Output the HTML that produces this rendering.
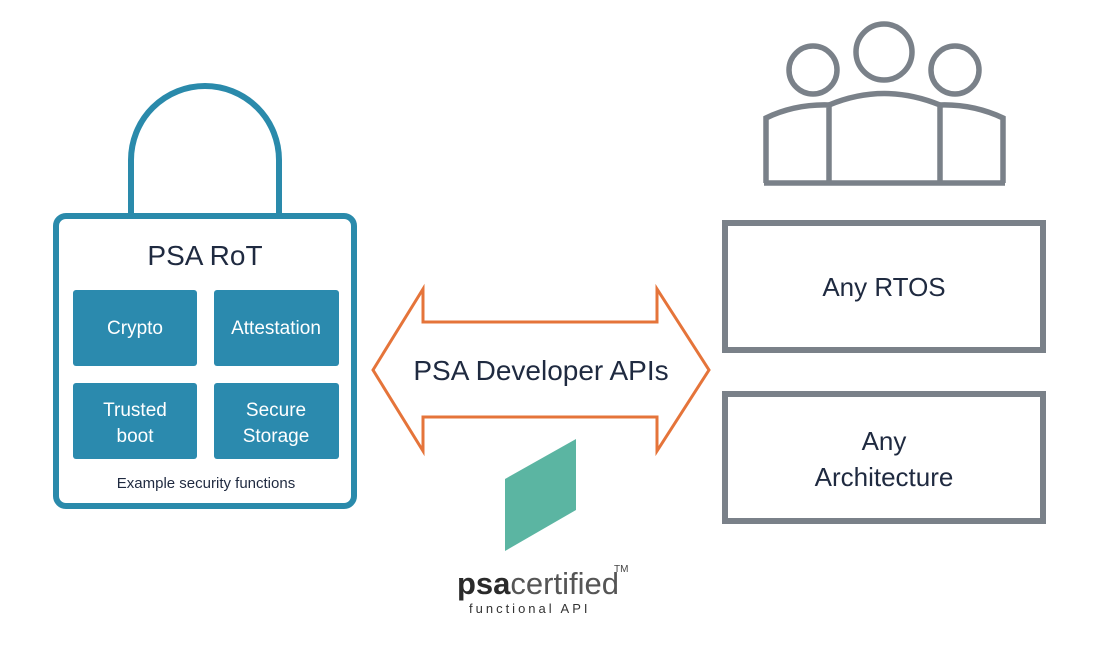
<!DOCTYPE html>
<html><head><meta charset="utf-8"><style>
html,body{margin:0;padding:0;background:#fff;width:1113px;height:669px;overflow:hidden}
text{font-family:"Liberation Sans",sans-serif}
</style></head><body>
<svg width="1113" height="669" viewBox="0 0 1113 669" xmlns="http://www.w3.org/2000/svg">
<!-- lock -->
<path d="M131 215 V160 A74 74 0 0 1 279 160 V215" fill="none" stroke="#2a8aab" stroke-width="6"/>
<rect x="56" y="216" width="298" height="290" rx="10" fill="#fff" stroke="#2a8aab" stroke-width="6"/>
<text x="205" y="265" text-anchor="middle" font-size="28" fill="#1f2a40">PSA RoT</text>
<g fill="#2b8aae">
<rect x="73" y="290" width="124" height="76" rx="3"/>
<rect x="214" y="290" width="125" height="76" rx="3"/>
<rect x="73" y="383" width="124" height="76" rx="3"/>
<rect x="214" y="383" width="125" height="76" rx="3"/>
</g>
<g fill="#fff" font-size="19" text-anchor="middle">
<text x="135" y="334">Crypto</text>
<text x="276" y="334">Attestation</text>
<text x="135" y="416">Trusted</text>
<text x="135" y="442">boot</text>
<text x="276" y="416">Secure</text>
<text x="276" y="442">Storage</text>
</g>
<text x="206" y="488" text-anchor="middle" font-size="15" fill="#1f2a40">Example security functions</text>
<!-- arrow -->
<path d="M373 370 L423 289 V322 H657 V289 L709 370 L657 451 V417 H423 V451 Z" fill="#fff" stroke="#e5743a" stroke-width="3" stroke-linejoin="miter"/>
<text x="541" y="380" text-anchor="middle" font-size="28" fill="#1f2a40">PSA Developer APIs</text>
<!-- logo -->
<polygon points="505,479 576,439 576,510 505,551" fill="#5bb5a2"/>
<text x="457" y="594" font-size="31" fill="#333"><tspan font-weight="bold" fill="#2a2a2a">psa</tspan><tspan fill="#555">certified</tspan></text>
<text x="614" y="572" font-size="10" fill="#444">TM</text>
<text x="469" y="613" font-size="13" fill="#333" letter-spacing="3">functional API</text>
<!-- people -->
<g fill="none" stroke="#7a8189" stroke-width="5.5">
<circle cx="813" cy="70" r="24"/>
<circle cx="884" cy="52" r="28"/>
<circle cx="955" cy="70" r="24"/>
<path d="M766 183 V118 Q795 104 829 105 V183"/>
<path d="M829 105 Q884 82 940 105 V183"/>
<path d="M940 105 Q973 104 1003 118 V183"/>
<path d="M764 183 H1005"/>
</g>
<!-- boxes -->
<rect x="725" y="223" width="318" height="127" fill="none" stroke="#7a8189" stroke-width="6"/>
<rect x="725" y="394" width="318" height="127" fill="none" stroke="#7a8189" stroke-width="6"/>
<g font-size="26" fill="#1f2a40" text-anchor="middle">
<text x="884" y="296">Any RTOS</text>
<text x="884" y="450">Any</text>
<text x="884" y="486">Architecture</text>
</g>
</svg>
</body></html>
